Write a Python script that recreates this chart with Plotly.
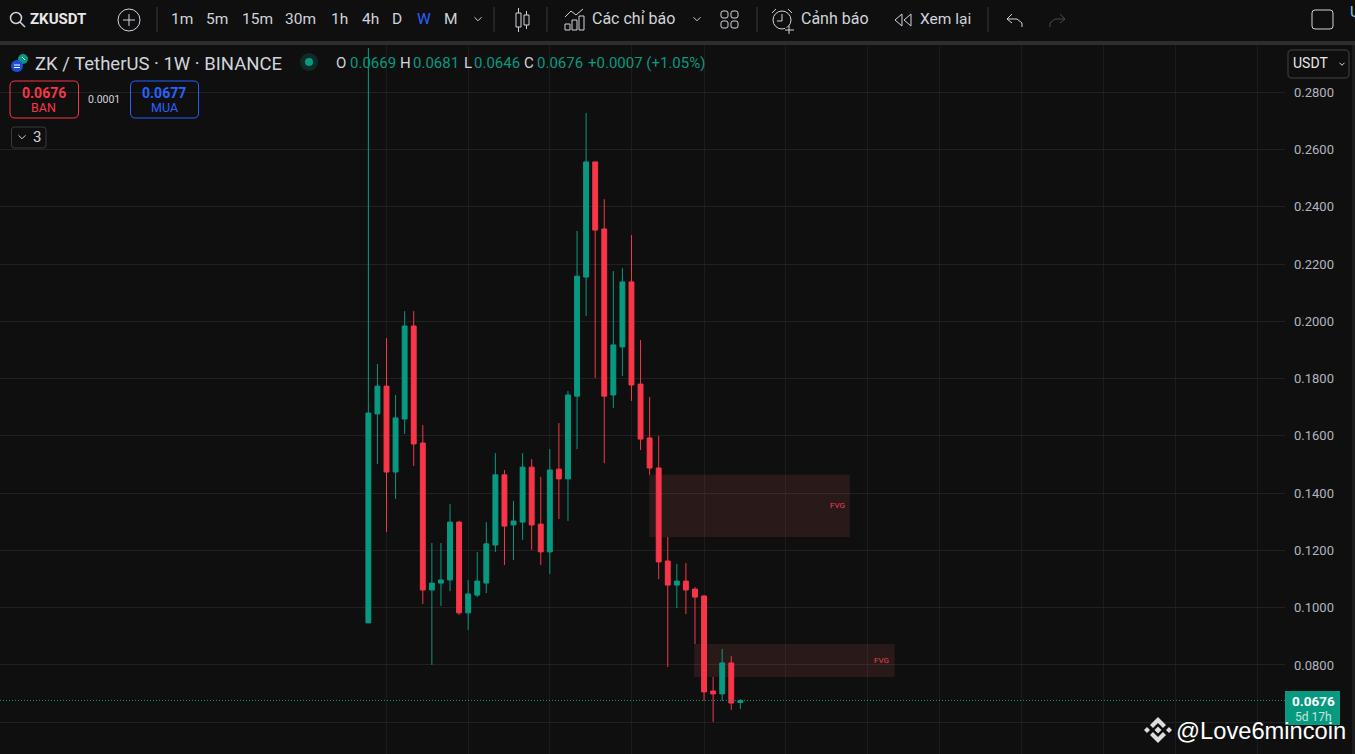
import plotly.graph_objects as go

W, H = 1355, 754
BG = "#0f0f0f"
GREEN = "#089981"
RED = "#f83648"
GRID = "#212121"
GRID_X = "#1c1c1c"
TXT = "#d1d4dc"
BLUE = "#2962ff"
FONT = "Roboto"

# weekly candles ZK/USDT
opens = [.0947, .1677, .1774, .1474, .1659, .1984, .1575, .1062, .1086, .1097, .1299, .0982, .1044, .1086,
         .1219, .1464, .1289, .1299, .1491, .1292, .1195, .1484, .1450, .1739, .2155, .2557, .2323, .1743,
         .1911, .2138, .1781, .1593, .1488, .1163, .1079, .1093, .1065, .1041, .0709, .0699, .0807, .0669]
highs = [.2955, .1851, .1942, .1743, .2036, .2036, .1638, .1226, .1226, .1362, .1303, .1097, .1195, .1299,
         .1540, .1481, .1373, .1540, .1519, .1457, .1554, .1645, .1757, .2316, .2728, .2557, .2427, .2176,
         .2186, .2302, .1935, .1736, .1600, .1247, .1153, .1156, .1072, .1044, .0758, .0856, .0831, .0681]
lows = [.0947, .1502, .1264, .1380, .1607, .1495, .1013, .0800, .1006, .1058, .0975, .0922, .1037, .1051,
        .1195, .1149, .1167, .1237, .1202, .1149, .1118, .1310, .1303, .1554, .2019, .1802, .1505, .1697,
        .1809, .1722, .1551, .1464, .1100, .0793, .0999, .0978, .0873, .0674, .0601, .0674, .0643, .0646]
closes = [.1680, .1774, .1474, .1663, .1984, .1572, .1062, .1086, .1097, .1299, .0982, .1048, .1093, .1223,
          .1464, .1285, .1303, .1491, .1289, .1195, .1481, .1450, .1743, .2158, .2557, .2319, .1739, .1918,
          .2138, .1778, .1589, .1488, .1160, .1079, .1093, .1062, .1037, .0706, .0699, .0807, .0667, .0676]
weeks = list(range(len(opens)))

price_ticks = [.06, .08, .10, .12, .14, .16, .18, .20, .22, .24, .26, .28]
price_labels = ["", "0.0800", "0.1000", "0.1200", "0.1400", "0.1600", "0.1800", "0.2000", "0.2200", "0.2400", "0.2600", "0.2800"]
grid_weeks = [2, 11, 20, 29, 37, 46, 55, 63, 72, 81, 89, 98]

last_price = 0.0676
fvg_weeks = [(30.94, 53.07), (35.9, 58.0)]
fvg_prices = [(.1247, .1464), (.0758, .0873)]

interval_names = ["1m", "5m", "15m", "30m", "1h", "4h", "D", "W", "M"]
interval_x = [182, 217, 257, 300, 339, 370, 397, 424, 451]


def px(x):
    return x / W


def py(y):
    return 1 - y / H


shapes = []
notes = []


def label(x, y, text, size=15, color=TXT, anchor="left", family=FONT):
    # annotations carry a small pad, pull left aligned ones back
    if anchor == "left":
        x = x - 2
    notes.append(dict(x=px(x), y=py(y), xref="paper", yref="paper", text=text, showarrow=False, xanchor=anchor,
                      yanchor="middle", font=dict(family=family, size=size, color=color)))


def box(x0, y0, x1, y1, fill=None, line=None, w=1, layer="above"):
    shapes.append(dict(type="rect", xref="paper", yref="paper", x0=px(x0), x1=px(x1), y0=py(y0), y1=py(y1),
                       fillcolor=fill, line=dict(color=line, width=w if line else 0), layer=layer))


def circle(cx, cy, r, fill=None, line=None, w=1):
    shapes.append(dict(type="circle", xref="paper", yref="paper", x0=px(cx - r), x1=px(cx + r), y0=py(cy - r), y1=py(cy + r),
                       fillcolor=fill, line=dict(color=line, width=w if line else 0)))


def poly(points, line=None, w=1, fill=None, closed=False):
    d = "M " + " L ".join(f"{px(a):.5f},{py(b):.5f}" for a, b in points) + (" Z" if closed else "")
    shapes.append(dict(type="path", xref="paper", yref="paper", path=d, fillcolor=fill,
                       line=dict(color=line, width=w if line else 0)))


def rounded(x0, y0, x1, y1, r, line, w=1):
    def p(a, b):
        return f"{px(a):.5f},{py(b):.5f}"
    d = (f"M {p(x0 + r, y0)} L {p(x1 - r, y0)} Q {p(x1, y0)} {p(x1, y0 + r)} L {p(x1, y1 - r)} Q {p(x1, y1)} {p(x1 - r, y1)} "
         f"L {p(x0 + r, y1)} Q {p(x0, y1)} {p(x0, y1 - r)} L {p(x0, y0 + r)} Q {p(x0, y0)} {p(x0 + r, y0)} Z")
    shapes.append(dict(type="path", xref="paper", yref="paper", path=d, line=dict(color=line, width=w)))


def chevron(cx, cy, color=TXT, s=3.5):
    poly([(cx - s, cy - s / 2), (cx, cy + s / 2), (cx + s, cy - s / 2)], line=color)


fig = go.Figure(go.Candlestick(
    x=weeks, open=opens, high=highs, low=lows, close=closes, whiskerwidth=0,
    increasing=dict(line=dict(color=GREEN, width=1), fillcolor=GREEN),
    decreasing=dict(line=dict(color=RED, width=1), fillcolor=RED),
    hoverinfo="skip", showlegend=False))

# fair value gaps + last price line, these live on the price axes
for (a, b), (lo, hi) in zip(fvg_weeks, fvg_prices):
    shapes.append(dict(type="rect", xref="x", yref="y", x0=a, x1=b, y0=lo, y1=hi, layer="between",
                       fillcolor="rgba(255,120,110,0.11)", line=dict(width=0)))
    notes.append(dict(x=b - 1.4, y=(lo + hi) / 2, xref="x", yref="y", text="FVG", showarrow=False,
                      font=dict(family=FONT, size=8, color="#e8404e")))
shapes.append(dict(type="line", xref="x domain", yref="y", x0=0, x1=1, y0=last_price, y1=last_price,
                   line=dict(color=GREEN, width=1, dash="1px,2px")))

# toolbar
box(0, 0, W, 41, fill=BG, layer="below")
box(0, 41, W, 45, fill="#2e2e2e")
box(1352, 45, W, H, fill="#1c1c1c")
circle(16, 18, 5.5, line=TXT, w=1.5)
poly([(20, 22), (25, 27)], line=TXT, w=1.5)
label(30, 19, "<b>ZKUSDT</b>", 15, "#e8e8e8")
circle(129, 20, 11, line=TXT)
poly([(123, 20), (135, 20)], line=TXT)
poly([(129, 14), (129, 26)], line=TXT)
for sx in [157, 494, 547, 757, 988]:
    poly([(sx, 7), (sx, 32)], line="#3a3a3a")
for name, x in zip(interval_names, interval_x):
    label(x, 19, name, 15.5, BLUE if name == "W" else TXT, "center")
chevron(478, 19)
box(516, 13, 521, 27, line=TXT)
poly([(518.5, 8), (518.5, 13)], line=TXT)
poly([(518.5, 27), (518.5, 32)], line=TXT)
box(524, 15, 529, 25, line=TXT)
poly([(526.5, 11), (526.5, 15)], line=TXT)
poly([(526.5, 25), (526.5, 29)], line=TXT)
poly([(565, 17), (571, 11), (576, 15), (583, 9)], line=TXT)
box(565, 24, 570, 30, line=TXT)
box(572, 20, 577, 30, line=TXT)
box(579, 16, 584, 30, line=TXT)
label(592, 18.5, "Các chỉ báo", 16)
chevron(697, 19)
for gx in [721, 731]:
    for gy in [11, 21]:
        rounded(gx, gy, gx + 7, gy + 7, 2, TXT)
circle(782, 20, 9, line=TXT)
poly([(772, 13), (776, 9)], line=TXT)
poly([(788, 9), (792, 13)], line=TXT)
poly([(782, 14), (782, 21), (777, 21)], line=TXT)
poly([(785, 30), (794, 30)], line=BG, w=5)
poly([(789, 26), (789, 34)], line=TXT)
poly([(785, 30), (794, 30)], line=TXT)
label(801, 18.5, "Cảnh báo", 16)
poly([(902, 14), (895, 20), (902, 26), (902, 14)], line=TXT)
poly([(911, 14), (904, 20), (911, 26), (911, 14)], line=TXT)
label(920, 18.5, "Xem lại", 15.5)
poly([(1012, 14), (1007, 19), (1012, 23)], line=TXT)
poly([(1007, 19), (1017, 19), (1022, 23), (1022, 27)], line=TXT)
poly([(1060, 14), (1065, 19), (1060, 23)], line="#4a4a4a")
poly([(1065, 19), (1055, 19), (1050, 23), (1050, 27)], line="#4a4a4a")
rounded(1312, 10, 1333, 29, 3, TXT)
label(1350, 12, "U", 15, "#7fc4e8")

# legend row
circle(23, 59, 5, fill=GREEN)
circle(17, 66, 6, fill="#1b4fd8")
poly([(14, 65), (20, 65)], line="#ffffff")
poly([(14, 67.5), (20, 67.5)], line="#ffffff")
poly([(22, 57), (25, 60)], line="#ffffff")
label(35, 63.5, "ZK / TetherUS · 1W · BINANCE", 18.5)
circle(309, 62, 9, fill="#0e2b27")
circle(309, 62, 4, fill=GREEN)
label(336, 63, "O", 15)
label(350, 63, "0.0669", 15, GREEN)
label(400, 63, "H", 15)
label(413, 63, "0.0681", 15, GREEN)
label(464, 63, "L", 15)
label(474, 63, "0.0646", 15, GREEN)
label(524, 63, "C", 15)
label(537, 63, "0.0676", 15, GREEN)
label(588, 63, "+0.0007 (+1.05%)", 15, GREEN)
rounded(1288, 50, 1349, 78, 4, "#444444")
label(1293, 63, "USDT", 14, "#e8e8e8")
chevron(1342, 64, TXT, 2.5)

# buy / sell buttons
rounded(10, 81, 78.5, 118, 5, RED)
label(44, 93, "<b>0.0676</b>", 14, RED, "center")
label(44, 107.5, "BAN", 12.5, RED, "center")
label(104, 100, "0.0001", 10.5, TXT, "center")
rounded(130.5, 81, 198.6, 118, 5, BLUE)
label(164, 93, "<b>0.0677</b>", 14, BLUE, "center")
label(164, 107.5, "MUA", 12.5, BLUE, "center")
rounded(11.5, 127, 46, 148, 3, "#3a3a3a")
chevron(22, 137)
label(37, 137.5, "3", 15, TXT, "center")

# last price tag
box(1285, 691, 1340, 725, fill=GREEN)
label(1313, 701, "<b>0.0676</b>", 13.5, "#ffffff", "center")
label(1313, 717, "5d 17h", 12, "#c4e6df", "center")

# watermark, binance mark then handle
poly([(1158, 717), (1166, 725), (1163, 728), (1158, 723), (1153, 728), (1150, 725)], fill="#dddddd", closed=True)
poly([(1158, 743), (1166, 735), (1163, 732), (1158, 737), (1153, 732), (1150, 735)], fill="#dddddd", closed=True)
for dx, s in [(1158, 3.5), (1147, 3), (1169, 3)]:
    poly([(dx, 730 - s), (dx + s, 730), (dx, 730 + s), (dx - s, 730)], fill="#dddddd", closed=True)
label(1176, 731, "@Love6mincoin", 23.7, "#ffffff", family="Liberation Sans")

fig.update_layout(
    width=W, height=H, autosize=False, margin=dict(l=0, r=0, t=0, b=0),
    paper_bgcolor=BG, plot_bgcolor=BG, boxgap=0.23, shapes=shapes, annotations=notes,
    xaxis=dict(domain=[0, 1285 / W], range=[-40.6, 101.03], tickmode="array", tickvals=grid_weeks, showticklabels=False,
               showgrid=True, gridcolor=GRID_X, gridwidth=1, zeroline=False, showline=False, rangeslider=dict(visible=False),
               fixedrange=True),
    yaxis=dict(domain=[0, 1 - 44 / H], range=[.0489, .2969], side="right", tickmode="array", tickvals=price_ticks,
               ticktext=price_labels, showgrid=True, gridcolor=GRID, gridwidth=1, zeroline=False, showline=False, ticks="",
               ticklabelstandoff=8, tickfont=dict(family=FONT, size=13, color="#b2b5be"), fixedrange=True),
)

fig.write_html("out.html", config=dict(displayModeBar=False),
               post_script="document.body.style.margin='0';document.body.style.background='#0f0f0f';document.body.style.overflow='hidden';")
